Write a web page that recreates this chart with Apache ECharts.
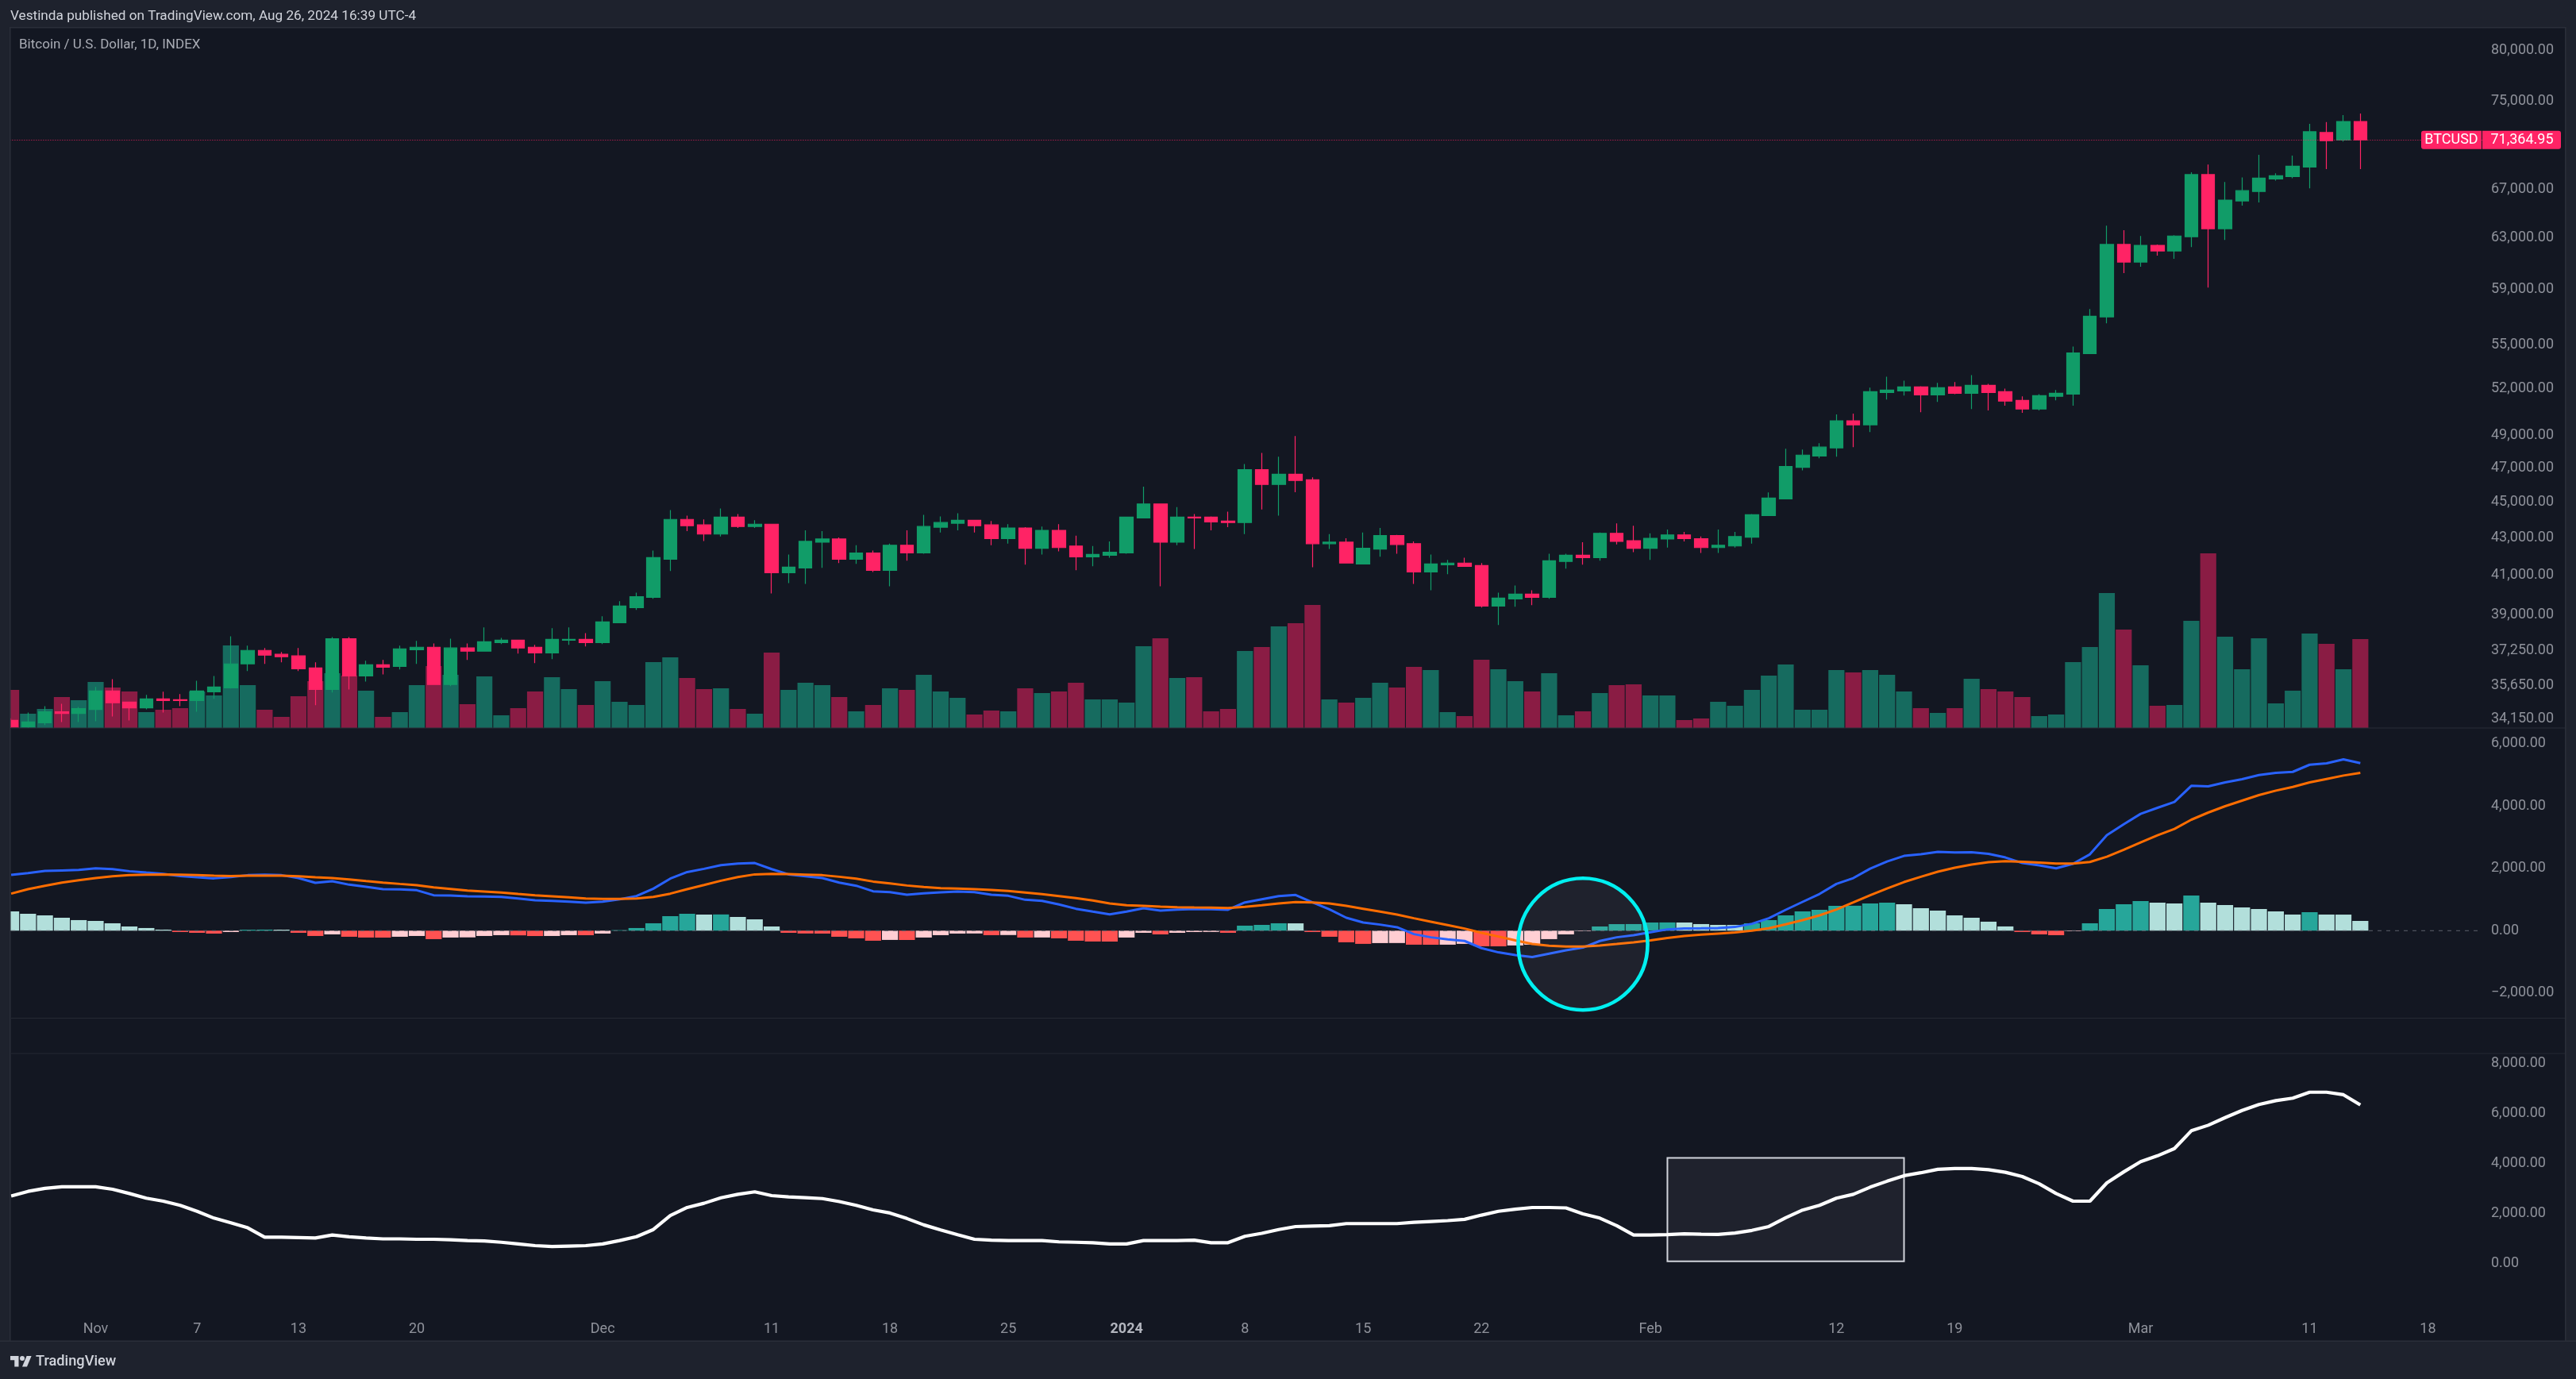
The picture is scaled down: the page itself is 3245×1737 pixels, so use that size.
<!DOCTYPE html>
<html>
<head>
<meta charset="utf-8">
<style>html,body{margin:0;padding:0;background:#131722}#c{width:3245px;height:1737px}</style>
<script src="https://cdn.jsdelivr.net/npm/echarts@6/dist/echarts.min.js"></script>
</head>
<body>
<div id="c"></div>
<script>
// ---------- data ----------
const opens = [34087,33815,33985,34465,34395,34570,35390,34895,34640,35035,35000,34965,35355,35535,36630,37265,37080,37005,36440,35460,37825,36070,36590,36515,37300,37415,35680,37380,37230,37640,37755,37415,37150,37755,37790,37640,38600,39350,39865,41850,44025,43720,43210,44155,43630,43760,41140,41390,42770,42940,41850,42185,41265,42600,42185,43590,43810,43980,43720,42960,43550,42435,43415,42560,41980,42060,42185,44110,44900,42770,44155,44155,43935,43850,46905,46030,46630,46305,42685,42770,41600,42395,43125,42685,41180,41560,41645,41515,39430,39790,40030,39865,41730,42060,41935,43250,42850,42435,42940,43165,42960,42475,42560,43040,44240,45195,47045,47730,48220,49915,49660,51750,51850,52110,51590,52110,51695,52215,51800,51230,50670,51490,51640,54370,56965,62470,61090,62400,61960,63090,68280,63740,66030,66830,67900,68110,68950,72040,71360,73060];
const closes = [33815,34019,34465,34395,34605,35390,34860,34640,35035,34965,34965,35390,35570,36630,37265,37040,36965,36405,35460,37825,36070,36590,36480,37340,37415,35680,37380,37230,37680,37755,37380,37150,37790,37790,37640,38640,39430,39905,41935,44025,43675,43210,44155,43630,43760,41140,41430,42810,42940,41850,42185,41265,42600,42185,43630,43850,43980,43675,42960,43550,42435,43415,42475,41980,42105,42225,44155,44900,42770,44155,44110,43890,43850,46905,46030,46630,46260,42685,42770,41645,42435,43125,42645,41180,41600,41645,41475,39430,39830,40030,39865,41770,42060,41935,43250,42810,42435,42980,43165,42960,42475,42600,43080,44285,45240,47090,47780,48270,49915,49660,51800,51905,52110,51590,52060,51695,52215,51750,51180,50670,51540,51695,54420,57020,62470,61090,62400,61960,63150,68280,63740,66100,66900,67970,68180,69020,72110,71300,73060,71364.95];
const lows = [33780,33760,33885,34019,34019,34050,34255,34085,34570,34430,34710,34465,35035,35500,36295,36630,36705,36295,34755,35320,35460,35820,36145,36370,36630,35680,35610,36815,37230,37565,37115,36665,36855,37530,37450,37565,38600,39235,39790,41225,43380,42830,43080,43550,43550,40070,40600,40560,41390,41645,41600,41180,40435,41770,42145,43295,43415,43295,42600,42685,41560,42105,42270,41265,41475,41935,42145,44110,40435,42600,42395,43415,43590,43210,44590,44240,45580,41430,42395,41645,41600,41980,42145,40560,40230,41060,41475,39350,38485,39390,39470,39790,41350,41560,41770,42645,42225,41810,42475,42810,42185,42185,42475,42685,44240,45195,46855,47585,47680,48270,49200,51280,51540,50460,51130,51640,50670,50570,50880,50420,50570,51230,50880,54370,56510,60230,60720,61590,61340,62270,59130,62840,65640,65900,67770,67970,67100,68760,71220,68760];
const highs = [34180,34430,34710,34820,34675,35570,35925,34895,35215,35355,35250,35855,36070,37940,37490,37380,37190,37380,36705,37900,37900,36780,36815,37490,37715,37600,37825,37600,38370,37865,37755,37530,38330,38370,38095,38920,39670,40110,42310,44550,44240,44025,44640,44330,43980,43760,42105,43415,43370,43025,42600,42310,42685,43415,44285,44198,44375,43980,43935,43760,43590,43630,43760,43125,42560,42810,44155,45895,44900,44720,44330,44198,44460,47240,47920,47680,48950,46445,43210,42980,43295,43550,43165,42810,42105,41810,41935,41645,40110,40475,40230,42145,42145,42770,43295,43805,43675,43250,43460,43335,43080,43460,43335,44330,45570,48170,48120,48510,50320,50370,52060,52800,52530,52160,52380,52430,52900,52320,52000,51490,51640,51905,54860,57540,63990,63610,63150,62470,63220,68490,69170,67650,68040,70020,68390,69950,72840,73000,73650,73800];
const volumes = [48,18,24,39,35,58,51,46,20,23,25,46,41,104,54,23,14,40,59,69,66,47,14,20,54,78,67,30,65,16,25,46,64,49,29,59,33,29,83,89,63,49,50,24,18,95,48,57,54,39,21,29,50,48,67,46,38,17,22,21,50,44,46,57,36,36,32,103,113,63,64,21,24,97,102,128,132,155,36,32,38,57,51,77,73,20,15,86,74,59,46,69,16,21,44,54,55,41,41,10,12,33,28,48,66,80,23,23,73,70,73,67,46,25,19,25,62,49,46,39,15,17,83,102,170,124,79,28,29,135,220,115,74,113,31,47,119,106,74,112];
const macdHist = [618,542,491,415,339,313,237,135,85,34,-43,-68,-93,-43,30,34,32,-68,-170,-119,-195,-220,-222,-195,-170,-271,-220,-215,-170,-144,-150,-172,-170,-144,-146,-93,17,85,237,466,542,516,520,440,364,135,-68,-90,-93,-195,-245,-322,-296,-298,-220,-144,-93,-90,-144,-140,-220,-218,-245,-322,-347,-349,-220,-68,-119,-68,-43,-40,-68,161,186,237,235,-43,-195,-372,-423,-398,-396,-449,-451,-449,-423,-500,-502,-474,-449,-271,-119,-17,135,210,212,262,264,262,212,186,184,237,339,491,618,669,796,800,872,898,847,720,644,491,415,288,136,-42,-119,-144,-17,237,695,847,949,898,872,1127,898,822,745,695,618,517,593,517,515,313];
const macdLine = [1787,1846,1914,1931,1948,1999,1973,1906,1863,1821,1753,1711,1677,1719,1779,1796,1779,1686,1533,1584,1474,1406,1330,1321,1296,1135,1127,1101,1093,1084,1033,974,957,932,898,932,1008,1110,1347,1669,1880,1982,2101,2151,2168,1973,1804,1745,1686,1542,1440,1262,1237,1152,1194,1228,1254,1237,1152,1118,991,957,839,703,610,525,610,720,644,678,695,686,669,906,1008,1110,1143,906,686,415,263,195,110,-110,-212,-280,-330,-559,-695,-779,-847,-737,-627,-542,-330,-212,-144,-51,42,68,76,85,119,220,398,669,923,1177,1499,1685,1990,2219,2397,2448,2524,2507,2516,2465,2346,2168,2092,1999,2143,2448,3058,3413,3744,3939,4125,4642,4625,4752,4853,4989,5057,5090,5319,5362,5489,5370];
const signalLine = [1186,1330,1440,1542,1618,1686,1745,1779,1796,1804,1796,1779,1762,1753,1762,1762,1762,1745,1711,1686,1643,1592,1542,1499,1457,1389,1338,1287,1254,1220,1177,1135,1101,1067,1033,1016,1016,1033,1084,1186,1330,1465,1601,1719,1804,1821,1813,1796,1779,1728,1669,1575,1516,1448,1398,1364,1347,1330,1304,1271,1220,1169,1110,1042,966,872,813,796,771,754,745,737,728,762,813,872,915,906,872,796,703,610,517,398,288,178,68,-68,-186,-313,-424,-483,-508,-508,-474,-424,-373,-313,-237,-169,-127,-93,-59,0,76,203,339,491,678,906,1135,1355,1558,1728,1889,2016,2118,2194,2228,2211,2185,2151,2151,2202,2372,2592,2829,3058,3261,3557,3786,3989,4167,4345,4489,4608,4752,4862,4972,5057];
const lowerLine = [2694,2881,3000,3067,3067,3067,2965,2795,2609,2490,2321,2084,1812,1626,1423,1050,1050,1033,1016,1134,1067,1016,982,982,965,965,948,914,897,847,779,711,677,694,711,779,914,1067,1355,1914,2236,2406,2626,2762,2863,2711,2660,2626,2592,2473,2321,2140,2016,1795,1541,1338,1151,965,931,914,914,914,863,846,829,779,779,914,914,914,931,829,829,1084,1202,1355,1474,1491,1508,1592,1592,1592,1592,1643,1677,1711,1762,1931,2084,2168,2236,2236,2219,1982,1812,1508,1134,1134,1151,1185,1168,1160,1215,1321,1474,1829,2134,2321,2609,2762,3050,3287,3507,3626,3762,3796,3796,3745,3643,3474,3185,2795,2490,2490,3219,3660,4067,4304,4592,5304,5525,5830,6118,6355,6508,6609,6847,6847,6745,6338];

const priceTicks = [80000,75000,67000,63000,59000,55000,52000,49000,47000,45000,43000,41000,39000,37250,35650,34150];
const macdTicks = [6000,4000,2000,0,-2000];
const lowerTicks = [8000,6000,4000,2000,0];
const lastPrice = 71364.95;
const timeLabels = {'2023-11-01':'Nov','2023-11-07':'7','2023-11-13':'13','2023-11-20':'20','2023-12-01':'Dec','2023-12-11':'11','2023-12-18':'18','2023-12-25':'25','2024-01-01':'2024','2024-01-08':'8','2024-01-15':'15','2024-01-22':'22','2024-02-01':'Feb','2024-02-12':'12','2024-02-19':'19','2024-03-01':'Mar','2024-03-11':'11','2024-03-18':'18'};
// annotations, in chart values
const circleSpec = [93,-430,3.83,2112];        // centre category, centre value, radius in days, full height in value
const boxBounds = [98,112,4219,83];            // first category, last category, upper value, lower value

// categories: Oct 27 2023 .. Mar 21 2024, one per day
const categories = [];
for (let i = 0; i < 147; i++) {
  categories.push(new Date(Date.UTC(2023, 9, 27 + i)).toISOString().slice(0, 10));
}
const zeroLine = categories.map(() => 0);
const candles = opens.map((o, i) => [o, closes[i], lows[i], highs[i]]);

// ---------- look ----------
const BG = '#131722', CHROME = '#1e222d', EDGE = '#2a2e39';
const UP = '#119c68', DOWN = '#ff2365', VUP = '#166b5f', VDOWN = '#8a1c44';
const FONT = 'Roboto';
const AX = '#8f929b';
const fmt2 = v => (v < 0 ? '\u2212' : '') + Math.abs(v).toLocaleString('en-US', {minimumFractionDigits: 2, maximumFractionDigits: 2});

const L = 3.4, W = 3129.6;
const gridRects = [
  {top: 35, height: 882},      // price
  {top: 597, height: 320},     // volume overlay
  {top: 917, height: 410},     // macd
  {top: 1327, height: 362}     // lower
];
const grid = gridRects.map(g => ({left: L, width: W, top: g.top, height: g.height, containLabel: false}));
const xAxis = gridRects.map((g, i) => ({
  type: 'category', gridIndex: i, data: categories, boundaryGap: true,
  show: i === 3,
  axisLine: {show: false}, axisTick: {show: false}, splitLine: {show: false},
  axisLabel: {
    show: i === 3, inside: true, interval: 0, margin: 6, color: AX, fontFamily: FONT, fontSize: 18, hideOverlap: false,
    formatter: v => { const t = timeLabels[v]; if (!t) return ''; return t === '2024' ? '{b|2024}' : t; },
    rich: {b: {fontWeight: 'bold', color: '#b2b5be', fontFamily: FONT, fontSize: 18}}
  }
}));
const labelStyle = (ticks, nudge) => ({
  show: true, align: 'left', margin: 5, color: AX, fontFamily: FONT, fontSize: 18,
  padding: [nudge, 0, 0, 0],
  customValues: ticks, formatter: v => fmt2(v)
});
const yAxis = [
  {type: 'log', gridIndex: 0, position: 'right', min: 33760, max: 82312, logBase: 10,
   axisLine: {show: false}, axisTick: {show: false}, splitLine: {show: false}, minorTick: {show: false},
   axisLabel: labelStyle(priceTicks, 1)},
  {type: 'value', gridIndex: 1, min: 0, max: 320, show: false, splitLine: {show: false}},
  {type: 'value', gridIndex: 2, position: 'right', min: -3937, max: 6496,
   axisLine: {show: false}, axisTick: {show: false}, splitLine: {show: false},
   axisLabel: labelStyle(macdTicks, 3)},
  {type: 'value', gridIndex: 3, position: 'right', min: -3098, max: 8394,
   axisLine: {show: false}, axisTick: {show: false}, splitLine: {show: false},
   axisLabel: labelStyle(lowerTicks, 3)}
];

function renderTag(params, api) {
  const y = api.coord([api.value(0), api.value(1)])[1];
  const font = '18px ' + FONT;
  return {type: 'group', children: [
    {type: 'rect', shape: {x: 3050, y: y - 11.5, width: 76, height: 23, r: [3, 0, 0, 3]}, style: {fill: DOWN}},
    {type: 'rect', shape: {x: 3127, y: y - 11.5, width: 99, height: 23, r: [0, 3, 3, 0]}, style: {fill: DOWN}},
    {type: 'text', style: {text: 'BTCUSD', x: 3088, y: y, fill: '#fff', font: font, align: 'center', verticalAlign: 'middle'}},
    {type: 'text', style: {text: fmt2(api.value(1)), x: 3177, y: y, fill: '#fff', font: font, align: 'center', verticalAlign: 'middle'}}
  ]};
}
function renderCircle(params, api) {
  const c = api.coord([api.value(0), api.value(1)]);
  const s = api.size([1, api.value(3) * 2], [api.value(0), api.value(1)]);
  return {type: 'ellipse',
    shape: {cx: c[0], cy: c[1], rx: s[0] * api.value(2), ry: s[1] / 2},
    style: {fill: 'rgba(255,255,255,0.05)', stroke: '#00f0f0', lineWidth: 4.6}};
}

const series = [
  {type: 'bar', name: 'Volume', xAxisIndex: 1, yAxisIndex: 1, data: volumes, barWidth: 20.2, z: 1, silent: true,
   itemStyle: {color: p => closes[p.dataIndex] >= opens[p.dataIndex] ? VUP : VDOWN}},
  {type: 'candlestick', name: 'BTCUSD', xAxisIndex: 0, yAxisIndex: 0, data: candles, barWidth: 17, z: 3, silent: true,
   itemStyle: {color: UP, color0: DOWN, borderColor: UP, borderColor0: DOWN, borderWidth: 1.2},
   markLine: {silent: true, symbol: 'none', label: {show: false}, animation: false,
     lineStyle: {color: DOWN, type: [1, 2], width: 1, opacity: 0.9}, data: [{yAxis: lastPrice}]}},
  {type: 'custom', name: 'tag', xAxisIndex: 0, yAxisIndex: 0, data: [[139, lastPrice]], renderItem: renderTag, z: 20, clip: false, silent: true,
   encode: {x: 0, y: 1}},
  {type: 'bar', name: 'Histogram', xAxisIndex: 2, yAxisIndex: 2, data: macdHist, barWidth: 20.2, z: 2, silent: true,
   itemStyle: {color: p => {
     const v = macdHist[p.dataIndex], prev = p.dataIndex ? macdHist[p.dataIndex - 1] : Infinity;
     return v >= 0 ? (prev < v ? '#26a69a' : '#b2dfdb') : (prev < v ? '#ffcdd2' : '#ff5252');
   }}},
  {type: 'line', name: 'Zero', xAxisIndex: 2, yAxisIndex: 2, data: zeroLine, symbol: 'none', silent: true, z: 3,
   lineStyle: {color: '#5d606b', width: 1, type: [5, 6]}},
  {type: 'line', name: 'MACD', xAxisIndex: 2, yAxisIndex: 2, data: macdLine, symbol: 'none', silent: true, z: 4,
   lineStyle: {color: '#2962ff', width: 3}},
  {type: 'line', name: 'Signal', xAxisIndex: 2, yAxisIndex: 2, data: signalLine, symbol: 'none', silent: true, z: 5,
   lineStyle: {color: '#ff6d00', width: 3}},
  {type: 'custom', name: 'circle', xAxisIndex: 2, yAxisIndex: 2, data: [circleSpec], renderItem: renderCircle, z: 6, clip: false, silent: true,
   encode: {x: 0, y: 1}},
  {type: 'line', name: 'Lower', xAxisIndex: 3, yAxisIndex: 3, data: lowerLine, symbol: 'none', silent: true, z: 4,
   lineStyle: {color: '#ffffff', width: 4.2},
   markArea: {silent: true, label: {show: false},
     itemStyle: {color: 'rgba(255,255,255,0.05)', borderColor: '#d1d4dc', borderWidth: 2},
     data: [[{coord: [boxBounds[0], boxBounds[2]]}, {coord: [boxBounds[1], boxBounds[3]]}]]}}
];

const rect = (x, y, width, height, fill) => ({type: 'rect', z: 100, silent: true, shape: {x, y, width, height}, style: {fill}});
const logoAt = {x: 13, y: 1705, scaleX: 0.75, scaleY: 0.75, z: 101, silent: true};
const graphic = {elements: [
  rect(0, 0, 3245, 34, CHROME), rect(0, 34, 3245, 1.5, EDGE),
  rect(0, 0, 12, 1737, CHROME), rect(12, 34, 1.5, 1656, EDGE),
  rect(3232, 0, 13, 1737, CHROME), rect(3231, 34, 1.5, 1656, EDGE),
  rect(0, 1690, 3245, 47, CHROME), rect(0, 1688.5, 3245, 1.5, EDGE),
  rect(14, 916.5, 3217, 1, EDGE), rect(14, 1282, 3217, 1, '#252933'), rect(14, 1326.5, 3217, 1, '#252933'),
  {type: 'text', z: 101, silent: true, style: {text: 'Vestinda published on TradingView.com, Aug 26, 2024 16:39 UTC-4', x: 13, y: 20.5, fill: '#d1d4dc', font: '17.2px ' + FONT, verticalAlign: 'middle'}},
  {type: 'text', z: 101, silent: true, style: {text: 'Bitcoin / U.S. Dollar, 1D, INDEX', x: 24, y: 57, fill: '#a9acb5', font: '17px ' + FONT, verticalAlign: 'middle'}},
  Object.assign({type: 'polygon', shape: {points: [[14,22],[7,22],[7,11],[0,11],[0,4],[14,4]]}, style: {fill: '#d1d4dc'}}, logoAt),
  Object.assign({type: 'polygon', shape: {points: [[28,22],[20,22],[27.5,4],[35.5,4]]}, style: {fill: '#d1d4dc'}}, logoAt),
  Object.assign({type: 'circle', shape: {cx: 20, cy: 8, r: 4}, style: {fill: '#d1d4dc'}}, logoAt),
  {type: 'text', z: 101, silent: true, style: {text: 'TradingView', x: 45, y: 1715.5, fill: '#d1d4dc', font: '500 18.2px ' + FONT, verticalAlign: 'middle'}}
]};

const chart = echarts.init(document.getElementById('c'), null, {width: 3245, height: 1737, renderer: 'canvas'});
chart.setOption({animation: false, backgroundColor: BG, grid, xAxis, yAxis, series, graphic, tooltip: {show: false}, legend: {show: false}});
</script>
</body>
</html>
